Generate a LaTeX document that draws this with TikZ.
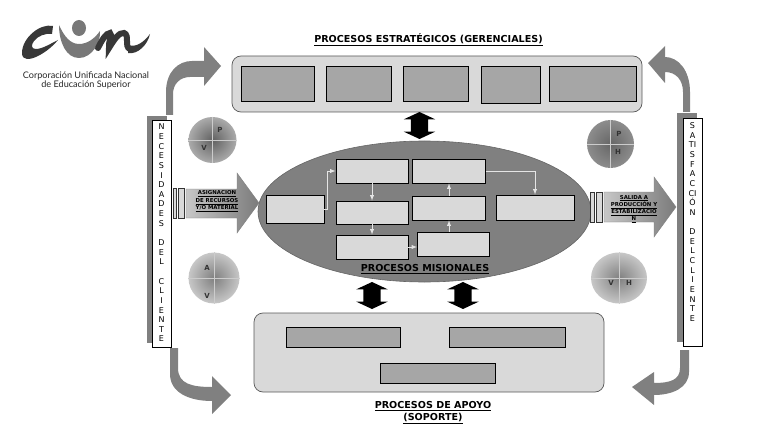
\documentclass[tikz,border=0pt]{standalone}
\usepackage{fontspec}
\setmainfont{DejaVu Sans}
\newfontfamily\logofont{Lato}
\usetikzlibrary{shapes.geometric,shapes.arrows}

\definecolor{panelgray}{gray}{0.85}
\definecolor{innergray}{gray}{0.65}
\definecolor{midgray}{gray}{0.5}
\definecolor{logodark}{gray}{0.22}
\definecolor{logomid}{gray}{0.47}

\tikzset{
	panel/.style={rectangle,draw=black!65,fill=panelgray,rounded corners=9pt,line width=0.7pt,inner sep=0pt},
	innerbox/.style={rectangle,draw=black,fill=innergray,line width=0.8pt,inner sep=0pt},
	flowbox/.style={rectangle,draw=black,fill=panelgray,line width=0.8pt,inner sep=0pt},
	flowline/.style={draw=white!90!black,line width=0.9pt,-latex},
	bothways/.style={double arrow,fill=black,rotate=90,inner xsep=0pt,inner ysep=8.5pt,double arrow head extend=7pt,double arrow tip angle=130},
	title/.style={font=\fontsize{9.6}{11.5}\selectfont\bfseries,align=center,inner sep=0pt},
	tiny/.style={font=\fontsize{5.4}{7.3}\selectfont\bfseries,align=center,inner sep=0pt},
	column/.style={font=\fontsize{8}{9.64}\selectfont,align=center,inner sep=0pt},
	letter/.style={font=\fontsize{7}{8}\selectfont\bfseries,text=black!80,inner sep=0pt},
	ball/.style={ellipse,inner sep=0pt,inner color=black!62,outer color=black!33},
	paleball/.style={ellipse,inner sep=0pt,inner color=black!50,outer color=black!22},
	cross/.style={draw=white!60!gray,line width=0.6pt},
	turn/.style={fill=midgray,draw=none},
	bigarrow/.style={draw=black!50,line width=0.4pt,left color=black!22,right color=black!52},
	bar/.style={rectangle,draw=black!80,fill=panelgray,line width=0.5pt,inner sep=0pt},
}

\begin{document}
\begin{tikzpicture}[x=1pt,y=-1pt]
	\useasboundingbox (0,0) rectangle (768,433);

	% logo
	\fill[logodark] (53,26) .. controls (40,23) and (22,38) .. (22,53) .. controls (22,61) and (30,60) .. (38,56)
		.. controls (46,52) and (53,46) .. (58,40) .. controls (50,44) and (42,49) .. (36,49)
		.. controls (31,49) and (31,45) .. (34,41) .. controls (38,36) and (45,33) .. (52,34) -- cycle;
	\fill[logomid] (59,25) .. controls (59,42) and (66,58) .. (79,58) .. controls (92,58) and (101,42) .. (100,31)
		.. controls (95,38) and (88,44) .. (79,44) .. controls (70,44) and (64,36) .. (59,25) -- cycle;
	\fill[logomid] (79,28) ellipse (7 and 8);
	\draw[logodark,line width=6pt,line cap=round] (98,48) .. controls (102,40) and (106,33) .. (110,33)
		.. controls (113,34) and (108,42) .. (109,48) .. controls (114,40) and (119,32) .. (124,33)
		.. controls (130,35) and (124,47) .. (130,49);
	\fill[logodark] (128,45) .. controls (136,48) and (144,42) .. (150,34) .. controls (148,44) and (138,55) .. (128,53) -- cycle;
	\node[font=\logofont\fontsize{9.1}{9}\selectfont,text=black!85,align=center,inner sep=0pt] (logotext) at (86,80.5)
		{Corporación Unificada Nacional\\de Educación Superior};

	% gerenciales
	\node[title] (esttitle) at (428.5,40) {\underline{PROCESOS ESTRATÉGICOS (GERENCIALES)}};
	\node[panel,minimum width=410pt,minimum height=56pt] (estpanel) at (437,84) {};
	\node[innerbox,minimum width=73pt,minimum height=35pt] (est1) at (277.5,83.5) {};
	\node[innerbox,minimum width=65pt,minimum height=35pt] (est2) at (358.5,83.5) {};
	\node[innerbox,minimum width=65pt,minimum height=35pt] (est3) at (435.5,83.5) {};
	\node[innerbox,minimum width=59pt,minimum height=37pt] (est4) at (510.5,84.5) {};
	\node[innerbox,minimum width=87pt,minimum height=35pt] (est5) at (592.5,83.5) {};

	% misionales
	\node[ellipse,draw=black!60,fill=midgray,line width=0.6pt,minimum width=333pt,minimum height=141pt,inner sep=0pt] (mision) at (424.5,211.5) {};
	\node[flowbox,minimum width=58pt,minimum height=28pt] (flow1) at (295,209) {};
	\node[flowbox,minimum width=72pt,minimum height=24pt] (flow2) at (372,171) {};
	\node[flowbox,minimum width=72pt,minimum height=23pt] (flow3) at (372,212.5) {};
	\node[flowbox,minimum width=72pt,minimum height=24pt] (flow4) at (372,247) {};
	\node[flowbox,minimum width=72pt,minimum height=24pt] (flow5) at (453.5,244) {};
	\node[flowbox,minimum width=73pt,minimum height=24pt] (flow6) at (449,208) {};
	\node[flowbox,minimum width=73pt,minimum height=24pt] (flow7) at (449,171) {};
	\node[flowbox,minimum width=78pt,minimum height=25pt] (flow8) at (535,207.5) {};
	\draw[flowline] (flow1.east) -- ++(3,0) |- (flow2.west);
	\draw[flowline] (flow2) -- (flow3);
	\draw[flowline] (flow3) -- (flow4);
	\draw[flowline] (flow4) -- (flow4 -| flow5.west);
	\draw[flowline] (flow5.north -| flow6) -- (flow6);
	\draw[flowline] (flow6) -- (flow7);
	\draw[flowline] (flow7) -| (flow8);
	\node[title] (mistitle) at (425,269) {\underline{PROCESOS MISIONALES}};

	% apoyo
	\node[panel,minimum width=350pt,minimum height=79pt] (apopanel) at (429,352.5) {};
	\node[innerbox,minimum width=114pt,minimum height=20pt] (apo1) at (343,337) {};
	\node[innerbox,minimum width=116pt,minimum height=20pt] (apo2) at (507,337) {};
	\node[innerbox,minimum width=115pt,minimum height=20pt] (apo3) at (437.5,373) {};
	\node[title] (apotitle) at (433,412.5) {\underline{PROCESOS DE APOYO}\\\underline{(SOPORTE)}};

	% flechas dobles
	\node[bothways,minimum height=27pt] (both1) at (419.5,125.5) {};
	\node[bothways,minimum height=27pt] (both2) at (372,295.5) {};
	\node[bothways,minimum height=27pt] (both3) at (463,295.5) {};

	% cliente
	\fill[midgray] (147,116) rectangle (167,343);
	\node[rectangle,draw=black,fill=white,line width=0.8pt,minimum width=19pt,minimum height=227pt,inner sep=0pt] (needs) at (161.5,233.5) {};
	\node[column] (needstext) at (161.5,233)
		{N\\E\\C\\E\\S\\I\\D\\A\\D\\E\\S\\~\\D\\E\\L\\~\\C\\L\\I\\E\\N\\T\\E};
	\fill[midgray] (677,113) rectangle (697,342);
	\node[rectangle,draw=black,fill=white,line width=0.8pt,minimum width=19pt,minimum height=228pt,inner sep=0pt] (satis) at (692.5,232) {};
	\node[column] (satistext) at (692.5,222)
		{S\\A\\TI\\S\\F\\A\\C\\CI\\Ó\\N\\~\\D\\E\\L\\C\\L\\I\\E\\N\\T\\E};

	% giros
	\fill[turn] (166,115) -- (166,92) .. controls (166,72) and (178,61) .. (192,61) -- (204,61) -- (204,47) -- (221,66)
		-- (204,86) -- (204,77) -- (190,77) .. controls (180,77) and (173,84) .. (173,94) -- (173,115) -- cycle;
	\fill[turn] (690,112) -- (690,92) .. controls (690,70) and (678,57) .. (665,57) -- (665,46) -- (648,63)
		-- (665,83) -- (665,72) .. controls (676,72) and (683,80) .. (683,92) -- (683,112) -- cycle;
	\fill[turn] (170,348) -- (170,374) .. controls (170,392) and (188,401) .. (212,401) -- (212,414) -- (231,395)
		-- (212,376) -- (212,387) .. controls (192,387) and (178,384) .. (178,368) -- (178,348) -- cycle;
	\fill[turn] (689,350) -- (689,372) .. controls (689,388) and (672,395) .. (654,395) -- (654,405) -- (632,387)
		-- (654,372) -- (654,383) .. controls (670,383) and (680,380) .. (680,368) -- (680,350) -- cycle;

	% entrada
	\node[bar,minimum width=3pt,minimum height=30pt] (inbar1) at (174.5,203) {};
	\node[bar,minimum width=6pt,minimum height=30pt] (inbar2) at (181,203) {};
	\draw[bigarrow] (186,189) -- (237,189) -- (237,173) -- (259,203) -- (237,233) -- (237,218) -- (186,218) -- cycle;
	\node[tiny] (intext) at (217,201.5) {\underline{ASIGNACION}\\\underline{DE RECURSOS}\\\underline{Y/O MATERIAL}};

	% salida
	\node[bar,minimum width=4pt,minimum height=30pt] (outbar1) at (592,207) {};
	\node[bar,minimum width=6pt,minimum height=30pt] (outbar2) at (599,207) {};
	\draw[bigarrow] (604,192) -- (654,192) -- (654,177) -- (676,207) -- (654,237) -- (654,222) -- (604,222) -- cycle;
	\node[tiny] (outtext) at (634,209) {\underline{SALIDA A}\\\underline{PRODUCCIÓN Y}\\\underline{ESTABILIZACIO}\\\underline{N}};

	% ciclo
	\node[ball,minimum width=48pt,minimum height=46pt] (plan1) at (212.5,140) {};
	\draw[cross] (plan1.north) -- (plan1.south);
	\draw[cross] (plan1.west) -- (plan1.east);
	\node[letter] at (220,130) {P};
	\node[letter] at (204,148) {V};

	\node[paleball,minimum width=51pt,minimum height=51pt] (plan2) at (214,278) {};
	\draw[cross] (plan2.north) -- (plan2.south);
	\draw[cross] (plan2.west) -- (plan2.east);
	\node[letter] at (207,268) {A};
	\node[letter] at (207,296) {V};

	\node[ball,minimum width=47pt,minimum height=48pt,inner color=black!60,outer color=black!45] (plan3) at (610.5,144) {};
	\draw[cross] (plan3.north) -- (plan3.south);
	\draw[cross] (plan3.west) -- (plan3.east);
	\node[letter] at (619,134) {P};
	\node[letter] at (618,152) {H};

	\node[paleball,minimum width=56pt,minimum height=51pt] (plan4) at (619,278) {};
	\draw[cross] (plan4.north) -- (plan4.south);
	\draw[cross] (plan4.west) -- (plan4.east);
	\node[letter] at (611,283) {V};
	\node[letter] at (629,283) {H};
\end{tikzpicture}
\end{document}
